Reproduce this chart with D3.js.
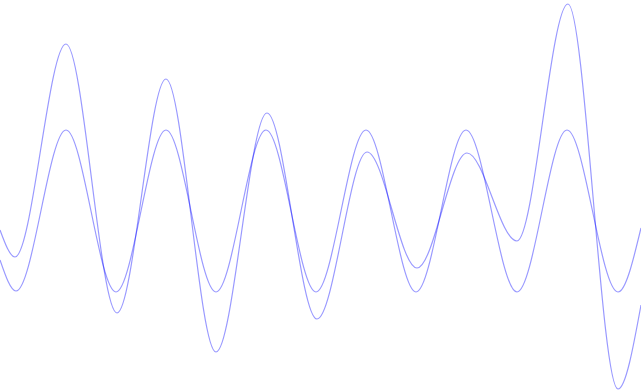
<!DOCTYPE html>
<html>
<head>
<meta charset="utf-8">
<script src="https://cdn.jsdelivr.net/npm/d3@7"></script>
<style>
  html, body { margin: 0; padding: 0; background: #fff; overflow: hidden; }
  svg { display: block; }
</style>
</head>
<body>
<script>
// Sample positions (turning points)
const xRegular = [0, 16, 66, 116, 166, 216, 266, 316, 366, 416, 466, 517, 567, 618, 641];
const yRegular = [132, 101, 262, 100, 262, 100, 262, 100, 262, 100, 262, 100, 262, 100, 164];

const xVarying = [0, 15, 66, 117, 166, 216, 267, 317, 367, 417, 467, 517, 568, 618, 641];
const yVarying = [162, 135, 348, 79, 313, 40, 279, 73, 240, 124, 239, 151, 388, 3, 87];

const W = 641, H = 392;
const svg = d3.select("body").append("svg").attr("width", W).attr("height", H);

const x = d3.scaleLinear().domain([0, 641]).range([0, W]);
const y = d3.scaleLinear().domain([0, 392]).range([H, 0]);

const line = d3.line()
  .x(d => x(d[0]))
  .y(d => y(d[1]))
  .curve(d3.curveMonotoneX);

const series = [
  d3.zip(xRegular, yRegular),
  d3.zip(xVarying, yVarying)
];

svg.selectAll("path.s")
  .data(series)
  .join("path")
  .attr("class", "s")
  .attr("d", line)
  .attr("fill", "none")
  .attr("stroke", "#0000ff")
  .attr("stroke-opacity", 0.4)
  .attr("stroke-width", 1.2);
</script>
</body>
</html>
